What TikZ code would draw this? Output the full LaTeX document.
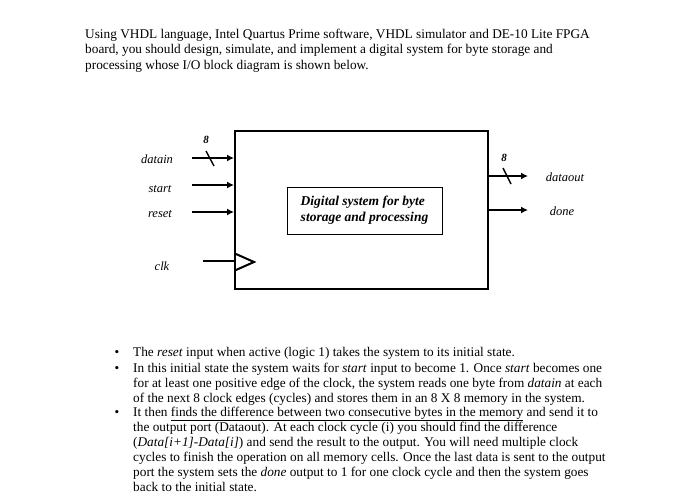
\documentclass[tikz,border=0pt]{standalone}
\usepackage{fontspec}
\setmainfont{Liberation Serif}
\begin{document}
\begin{tikzpicture}[x=1pt,y=-1pt,
  txt/.style={anchor=base west,inner sep=0pt,font=\fontsize{13.3}{15}\selectfont},
  lbl/.style={inner sep=0pt,font=\fontsize{12.5}{14}\selectfont\itshape},
  sig/.style={line width=2.6pt,-{Latex[length=7pt,width=7pt]}},
  bul/.style={anchor=base,inner sep=0pt,font=\fontsize{13.3}{15}\selectfont}]
\usetikzlibrary{arrows.meta}
\useasboundingbox[fill=white] (0,0) rectangle (700,498);
% top paragraph
\node[txt] (p1) at (85,38) {Using VHDL language, Intel Quartus Prime software, VHDL simulator and DE-10 Lite FPGA};
\node[txt] (p2) at (85,53) {board, you should design, simulate, and implement a digital system for byte storage and};
\node[txt] (p3) at (85,69) {processing whose I/O block diagram is shown below.};
% block
\draw[line width=2.6pt] (235,131) rectangle (488,289);
\node[draw,line width=0.8pt,minimum width=155pt,minimum height=47pt,inner sep=2pt,align=left,
  font=\fontsize{13.5}{16}\selectfont\bfseries\itshape] (core) at (364.5,210.5) {Digital system for byte\\storage and processing};
\coordinate (din0) at (192,158); \coordinate (din1) at (234,158);
\coordinate (st0) at (192,185); \coordinate (st1) at (234,185);
\coordinate (rs0) at (192,212); \coordinate (rs1) at (234,212);
\coordinate (ck0) at (203,261); \coordinate (ck1) at (235,261);
\coordinate (do0) at (488,176); \coordinate (do1) at (528,176);
\coordinate (dn0) at (488,210); \coordinate (dn1) at (528,210);
\draw[sig] (din0) -- (din1);
\draw[sig] (st0) -- (st1);
\draw[sig] (rs0) -- (rs1);
\draw[line width=2.6pt] (ck0) -- (ck1);
\draw[line width=2pt] (236,254) -- (254,262) -- (236,270);
\draw[sig] (do0) -- (do1);
\draw[sig] (dn0) -- (dn1);
\draw[line width=1.4pt] (206,151) -- (214,166);
\draw[line width=1.4pt] (503,168) -- (511,184);
\node[lbl,font=\fontsize{11}{12}\selectfont\bfseries\itshape] (n8a) at (206,140) {8};
\node[lbl,font=\fontsize{11}{12}\selectfont\bfseries\itshape] (n8b) at (504,158) {8};
\node[lbl] (ldin) at (157,159) {datain};
\node[lbl] (lst) at (160,189) {start};
\node[lbl] (lrs) at (160,214) {reset};
\node[lbl] (lck) at (162,266) {clk};
\node[lbl] (ldo) at (565,177) {dataout};
\node[lbl] (ldn) at (562,211) {done};
% bullets
\foreach \y in {356,372,416} \node[bul] at (117,\y) {•};
\node[txt] (b1) at (133,356) {The \textit{reset} input when active (logic 1) takes the system to its initial state.};
\node[txt] (b2a) at (133,372) {In this initial state the system waits for \textit{start} input to become 1. Once \textit{start} becomes one};
\node[txt] (b2b) at (133,387) {for at least one positive edge of the clock, the system reads one byte from \textit{datain} at each};
\node[txt] (b2c) at (133,402) {of the next 8 clock edges (cycles) and stores them in an 8 X 8 memory in the system.};
\node[txt] (b3a) at (133,416) {It then \underline{finds the difference between two consecutive bytes in the memory} and send it to};
\node[txt] (b3b) at (133,431) {the output port (Dataout). At each clock cycle (i) you should find the difference};
\node[txt] (b3c) at (133,446) {(\textit{Data[i+1]-Data[i]}) and send the result to the output. You will need multiple clock};
\node[txt] (b3d) at (133,461) {cycles to finish the operation on all memory cells. Once the last data is sent to the output};
\node[txt] (b3e) at (133,476) {port the system sets the \textit{done} output to 1 for one clock cycle and then the system goes};
\node[txt] (b3f) at (133,491) {back to the initial state.};
\end{tikzpicture}
\end{document}
